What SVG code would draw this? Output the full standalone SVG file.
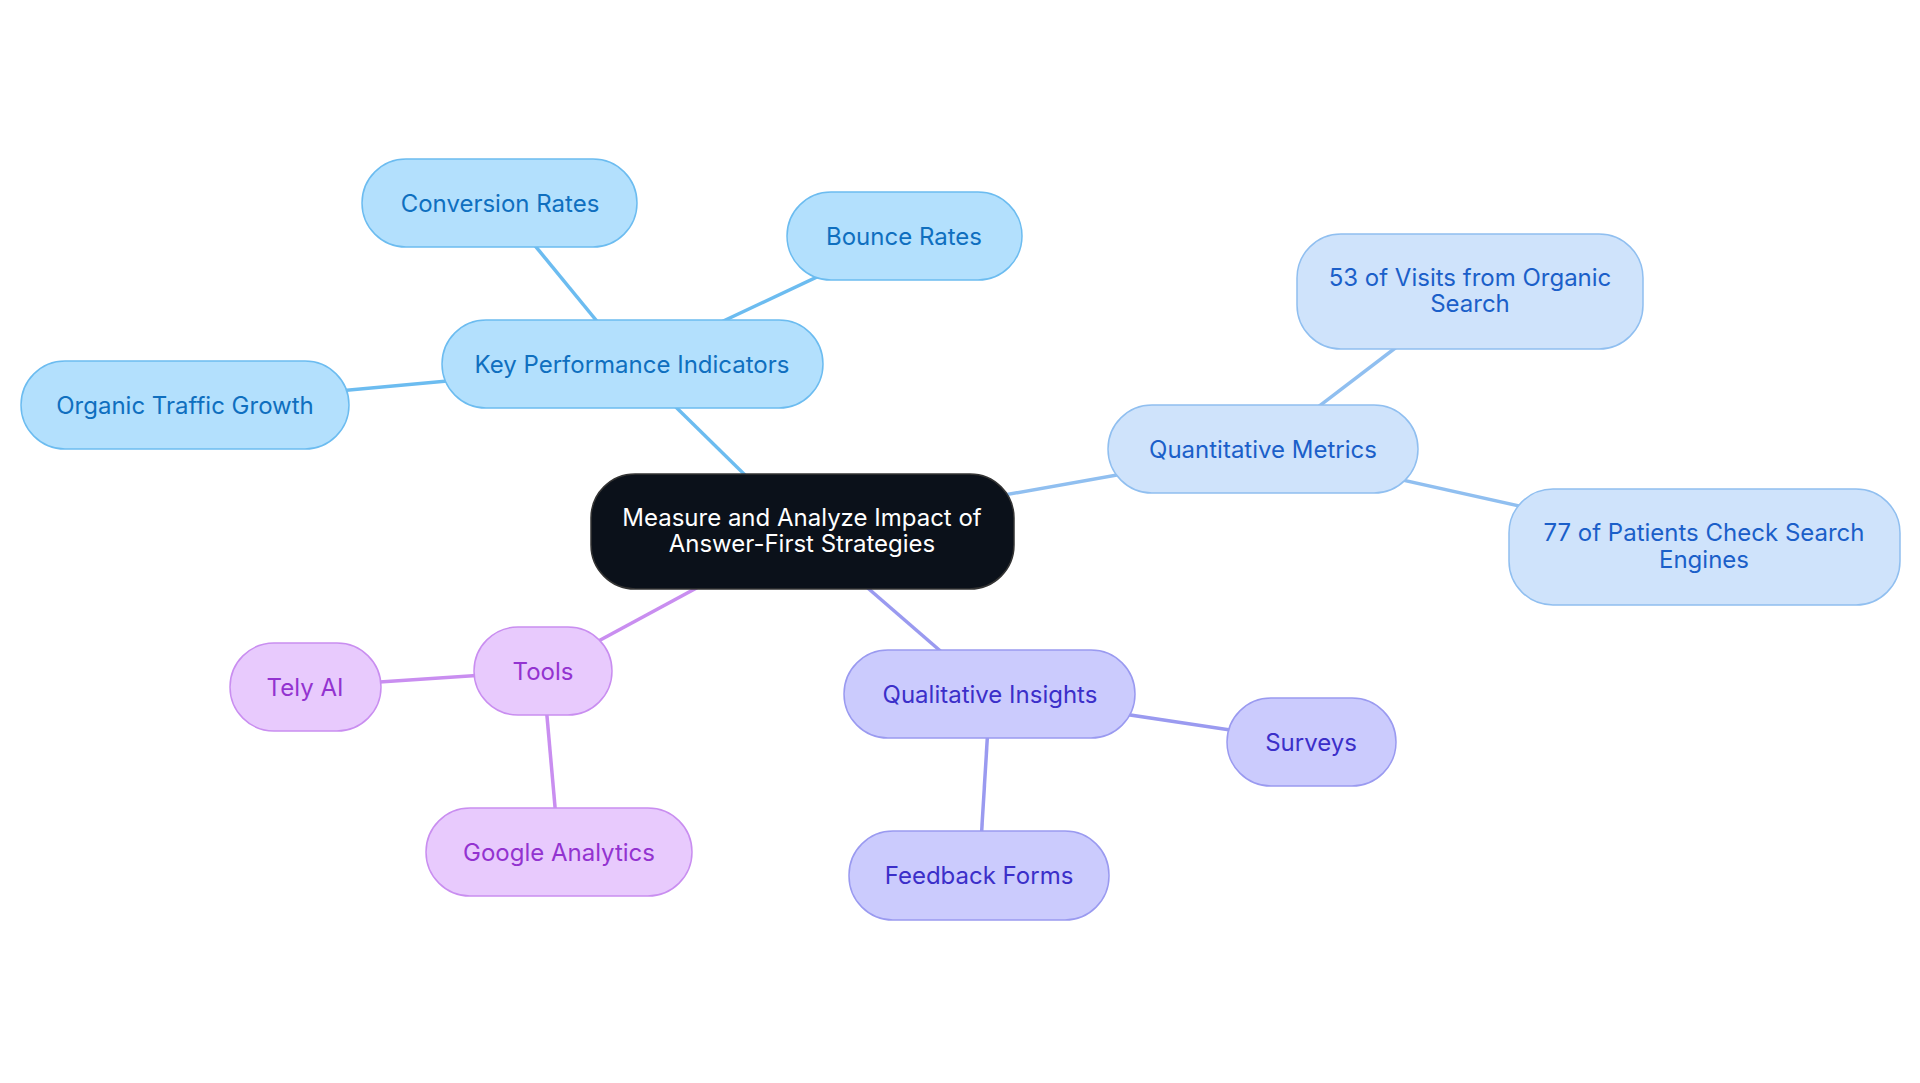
<svg xmlns="http://www.w3.org/2000/svg" width="1920" height="1083" viewBox="0 0 1920 1083">
<style>
text{font-family:Inter,"Noto Sans",sans-serif;font-size:24px;text-anchor:middle;dominant-baseline:central}
.k rect{fill:#b3e0fd;stroke:#6cbcf0;stroke-width:1.5}.k text{fill:#0f6fbf}
.q rect{fill:#cfe3fb;stroke:#90bff0;stroke-width:1.5}.q text{fill:#1b5fc9}
.l rect{fill:#cbcbfd;stroke:#9a9af0;stroke-width:1.5}.l text{fill:#3b2fc9}
.t rect{fill:#e8cafd;stroke:#c98ef0;stroke-width:1.5}.t text{fill:#9333d0}
#edges line{stroke-width:3.5;fill:none}
</style>
<rect width="1920" height="1083" fill="#fff"/>
<g id="edges">
<line x1="802" y1="531" x2="632" y2="364" stroke="#6cbcf0"/>
<line x1="632" y1="364" x2="500" y2="203" stroke="#6cbcf0"/>
<line x1="632" y1="364" x2="904" y2="236" stroke="#6cbcf0"/>
<line x1="632" y1="364" x2="185" y2="405" stroke="#6cbcf0"/>
<line x1="802" y1="531" x2="1263" y2="449" stroke="#90bff0"/>
<line x1="1263" y1="449" x2="1470" y2="291" stroke="#90bff0"/>
<line x1="1263" y1="449" x2="1704" y2="547" stroke="#90bff0"/>
<line x1="802" y1="531" x2="990" y2="694" stroke="#9a9af0"/>
<line x1="990" y1="694" x2="1311" y2="742" stroke="#9a9af0"/>
<line x1="990" y1="694" x2="979" y2="875" stroke="#9a9af0"/>
<line x1="802" y1="531" x2="543" y2="671" stroke="#c98ef0"/>
<line x1="543" y1="671" x2="305" y2="687" stroke="#c98ef0"/>
<line x1="543" y1="671" x2="559" y2="852" stroke="#c98ef0"/>
</g>
<g id="center"><rect x="591" y="474" width="423" height="115" rx="44" fill="#0b111a" stroke="#333" stroke-width="1.5"/><text x="802" y="517" fill="#fff">Measure and Analyze Impact of</text><text x="802" y="543" fill="#fff">Answer-First Strategies</text></g>
<g id="kpi" class="k"><rect x="442" y="320" width="381" height="88" rx="44"/><text x="632" y="364">Key Performance Indicators</text></g>
<g id="conv" class="k"><rect x="362" y="159" width="275" height="88" rx="44"/><text x="500" y="203">Conversion Rates</text></g>
<g id="bounce" class="k"><rect x="787" y="192" width="235" height="88" rx="44"/><text x="904" y="236">Bounce Rates</text></g>
<g id="otg" class="k"><rect x="21" y="361" width="328" height="88" rx="44"/><text x="185" y="405">Organic Traffic Growth</text></g>
<g id="qm" class="q"><rect x="1108" y="405" width="310" height="88" rx="44"/><text x="1263" y="449">Quantitative Metrics</text></g>
<g id="v53" class="q"><rect x="1297" y="234" width="346" height="115" rx="44"/><text x="1470" y="277">53 of Visits from Organic</text><text x="1470" y="303">Search</text></g>
<g id="p77" class="q"><rect x="1509" y="489" width="391" height="116" rx="44"/><text x="1704" y="532">77 of Patients Check Search</text><text x="1704" y="559">Engines</text></g>
<g id="qi" class="l"><rect x="844" y="650" width="291" height="88" rx="44"/><text x="990" y="694">Qualitative Insights</text></g>
<g id="surveys" class="l"><rect x="1227" y="698" width="169" height="88" rx="44"/><text x="1311" y="742">Surveys</text></g>
<g id="ff" class="l"><rect x="849" y="831" width="260" height="89" rx="44"/><text x="979" y="875">Feedback Forms</text></g>
<g id="tools" class="t"><rect x="474" y="627" width="138" height="88" rx="44"/><text x="543" y="671">Tools</text></g>
<g id="tely" class="t"><rect x="230" y="643" width="151" height="88" rx="44"/><text x="305" y="687">Tely AI</text></g>
<g id="ga" class="t"><rect x="426" y="808" width="266" height="88" rx="44"/><text x="559" y="852">Google Analytics</text></g>
</svg>
